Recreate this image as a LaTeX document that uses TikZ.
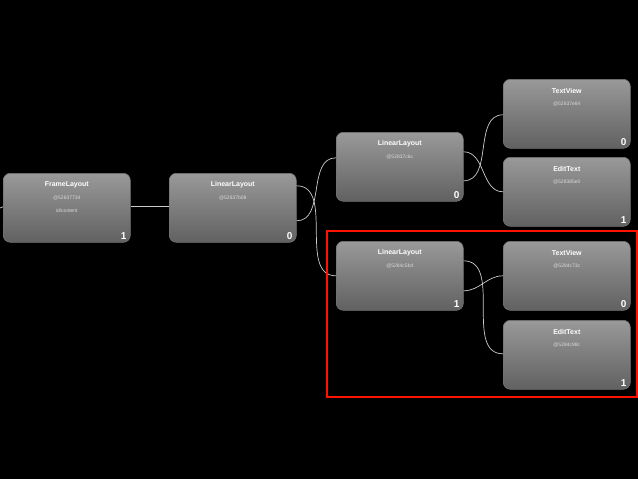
\documentclass[tikz,border=0pt]{standalone}
\usepackage{fontspec}
\setmainfont{Liberation Sans}
\usetikzlibrary{calc}
\newcommand{\bx}[6]{%
  \node[box] (#1) at (#2,#3) {};
  \node[ttl] (#1t) at ($(#1.north)+(0,12)$) {#4};
  \node[sub] (#1i) at ($(#1.north)+(0,25)$) {#5};
  \node[cnt] (#1c) at ($(#1.south east)+(-3,-2)$) {#6};}
\begin{document}
\begin{tikzpicture}[x=1pt,y=-1pt,
  box/.style={rounded corners=7pt,draw=black!55,line width=0.6pt,top color=black!40,bottom color=black!62,minimum width=127pt,minimum height=69pt,anchor=north west,inner sep=0pt},
  ttl/.style={text=white,font=\bfseries\fontsize{7}{8}\selectfont},
  sub/.style={text=white!85!black,font=\fontsize{5}{6}\selectfont},
  cnt/.style={text=white,font=\bfseries\fontsize{10}{11}\selectfont,anchor=south east,inner sep=1pt},
  wire/.style={draw=white!80!black,line width=0.7pt}]
\fill[black] (0,0) rectangle (638,479);
\useasboundingbox (0,0) rectangle (638,479);
\bx{fl}{3}{173}{FrameLayout}{@52837734}{1}
\node[sub] (flid) at ($(fl.north)+(0,38)$) {id/content};
\bx{la}{169}{173}{LinearLayout}{@52837b08}{0}
\bx{lb}{336}{132}{LinearLayout}{@52837c6c}{0}
\bx{ta}{503}{79}{TextView}{@52837e84}{0}
\bx{ea}{503}{157}{EditText}{@528385e0}{1}
\bx{lc}{336}{241}{LinearLayout}{@5284c5b4}{1}
\bx{tb}{503}{241}{TextView}{@5284c73c}{0}
\bx{eb}{503}{320}{EditText}{@5284c98c}{1}
\coordinate (lft) at (0,208);
\draw[wire] (lft) -- ([yshift=1]fl.west);
\draw[wire] ([yshift=1]fl.east) -- ([yshift=1]la.west);
\draw[wire] ([yshift=-13]la.east) to[out=0,in=180] ([yshift=9]lb.west);
\draw[wire] ([yshift=22]la.east) to[out=0,in=180] ([yshift=0]lc.west);
\draw[wire] ([yshift=-14]lb.east) to[out=0,in=180] ([yshift=-1]ta.west);
\draw[wire] ([yshift=15]lb.east) to[out=0,in=180] ([yshift=0]ea.west);
\draw[wire] ([yshift=-15]lc.east) to[out=0,in=180] ([yshift=0]tb.west);
\draw[wire] ([yshift=15]lc.east) to[out=0,in=180] ([yshift=1]eb.west);
\node[draw=red!85!orange,line width=2pt,minimum width=310pt,minimum height=166pt,anchor=north west,inner sep=0pt] (hl) at (326,230) {};
\end{tikzpicture}
\end{document}
